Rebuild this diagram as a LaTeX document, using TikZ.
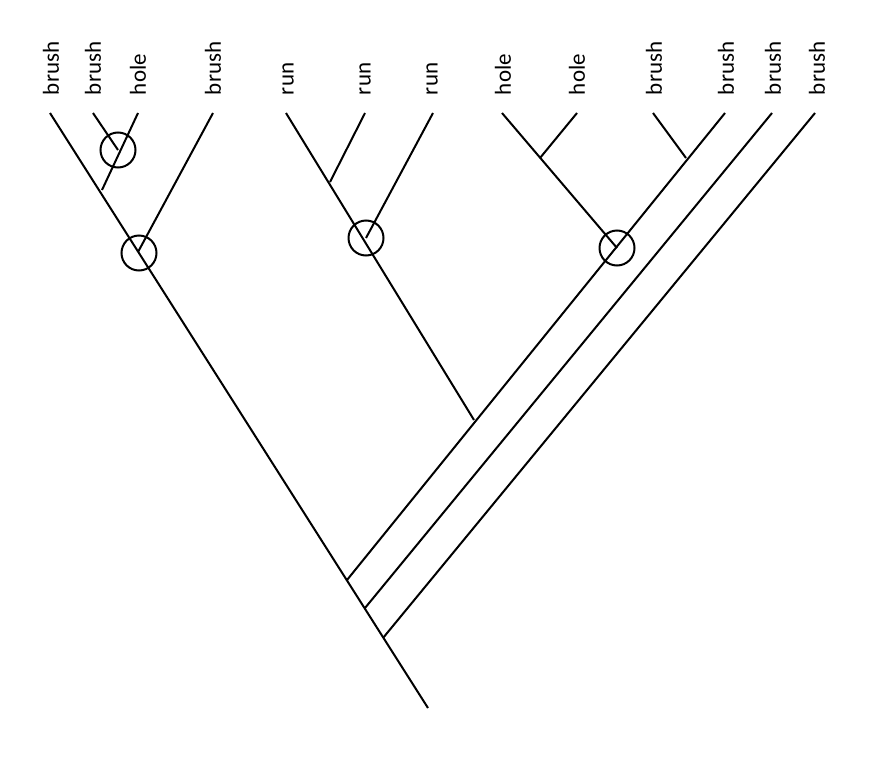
\documentclass[tikz,border=0pt]{standalone}
\usepackage{fontspec}
\setmainfont{Carlito}
\begin{document}
\begin{tikzpicture}[x=1pt,y=-1pt,line width=2pt,
  lbl/.style={rotate=90,anchor=west,inner sep=0pt,font=\fontsize{23}{24}\selectfont},
  ring/.style={draw,circle,minimum size=35pt,inner sep=0pt}]
\useasboundingbox (0,0) rectangle (882,760);
% leaf coordinates
\foreach \n/\x in {a/50,b/93,c/138,d/213,e/286,f/365,g/433,h/502,i/577,j/653,k/725,l/772,m/815}
  \coordinate (\n) at (\x,113);
\foreach \n/\x/\t in {a/51/brush,b/93/brush,c/138/hole,d/213/brush,e/288/run,f/365/run,g/432/run,h/503/hole,i/577/hole,j/654/brush,k/726/brush,l/773/brush,m/817/brush}
  \node[lbl] (t\n) at (\x,96) {\t};
\coordinate (root) at (428,708);
\coordinate (j1) at (102,190);
\coordinate (j2) at (138,252);
\coordinate (j3) at (330,182);
\coordinate (j4) at (474,420);
\coordinate (j5) at (540,158);
\coordinate (j6) at (686,158);
\coordinate (j7) at (347,580);
\coordinate (j8) at (365,608);
\coordinate (j9) at (383,638);
\node[ring] (c1) at (118,150) {};
\node[ring] (c2) at (139,253) {};
\node[ring] (c3) at (366,238) {};
\node[ring] (c4) at (617,248) {};
\draw (a) -- (root);
\draw (b) -- (c1.center);
\draw (c) -- (j1);
\draw (d) -- (j2);
\draw (e) -- (j4);
\draw (f) -- (j3);
\draw (g) -- (c3.center);
\draw (h) -- (c4.center);
\draw (i) -- (j5);
\draw (j) -- (j6);
\draw (k) -- (j7);
\draw (l) -- (j8);
\draw (m) -- (j9);
\end{tikzpicture}
\end{document}
